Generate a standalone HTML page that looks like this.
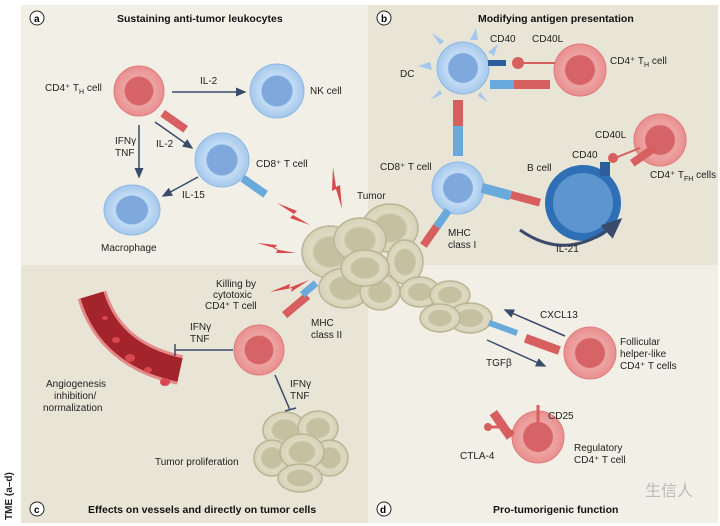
<!DOCTYPE html>
<html><head><meta charset="utf-8"><style>
body{margin:0;background:#fff;}
svg{display:block;font-family:"Liberation Sans","Noto Sans CJK SC",sans-serif;}
.t{font-size:10px;fill:#222}
.h{font-size:10.5px;font-weight:bold;fill:#111}
.ar{stroke:#3a4a6b;stroke-width:1.5;fill:none}
</style></head><body>
<svg width="720" height="526" viewBox="0 0 720 526">
<defs>
<marker id="m" markerWidth="8" markerHeight="8" refX="6" refY="4" orient="auto"><path d="M0,1 L7,4 L0,7z" fill="#3a4a6b"/></marker>
<radialGradient id="rc"><stop offset="0.55" stop-color="#d66466"/><stop offset="0.6" stop-color="#eda4a3"/><stop offset="1" stop-color="#e88f8f"/></radialGradient>
<radialGradient id="bc"><stop offset="0.55" stop-color="#7fa9dc"/><stop offset="0.6" stop-color="#c2dcf4"/><stop offset="1" stop-color="#a6c8ec"/></radialGradient>
<radialGradient id="tc"><stop offset="0.55" stop-color="#c4c0a0"/><stop offset="0.65" stop-color="#dedbc4"/><stop offset="1" stop-color="#d6d2b6"/></radialGradient>
</defs>
<rect x="21" y="5" width="347" height="260" fill="#f2f0e6"/>
<rect x="368" y="5" width="350" height="260" fill="#e8e5d6"/>
<rect x="21" y="265" width="347" height="258" fill="#e8e5d6"/>
<rect x="368" y="265" width="350" height="258" fill="#f2f0e6"/>
<text transform="translate(12,520) rotate(-90)" style="font-size:10px;font-weight:bold" fill="#222">TME (a–d)</text>
<g font-weight="bold" font-size="10">
<circle cx="37" cy="18" r="7" fill="#fff" stroke="#222"/><text x="34" y="22">a</text>
<circle cx="384" cy="18" r="7" fill="#fff" stroke="#222"/><text x="381" y="22">b</text>
<circle cx="37" cy="509" r="7" fill="#fff" stroke="#222"/><text x="34" y="513">c</text>
<circle cx="384" cy="509" r="7" fill="#fff" stroke="#222"/><text x="380" y="513">d</text>
</g>
<text x="117" y="22" class="h">Sustaining anti-tumor leukocytes</text>
<text x="478" y="22" class="h">Modifying antigen presentation</text>
<text x="88" y="513" class="h">Effects on vessels and directly on tumor cells</text>
<text x="493" y="513" class="h">Pro-tumorigenic function</text>

<!-- panel a -->
<circle cx="139" cy="91" r="25" fill="url(#rc)" stroke="#e2797b"/>
<rect x="165" y="110" width="28" height="8" fill="#d85f5f" transform="rotate(35 165 110)"/>
<circle cx="277" cy="91" r="27" fill="url(#bc)" stroke="#8db8e4"/>
<circle cx="222" cy="160" r="27" fill="url(#bc)" stroke="#8db8e4"/>
<rect x="245" y="175" width="28" height="8" fill="#6aa9dc" transform="rotate(35 245 175)"/>
<ellipse cx="132" cy="210" rx="28" ry="25" fill="url(#bc)" stroke="#8db8e4"/>
<line x1="172" y1="92" x2="245" y2="92" class="ar" marker-end="url(#m)"/>
<line x1="155" y1="122" x2="192" y2="148" class="ar" marker-end="url(#m)"/>
<line x1="139" y1="125" x2="139" y2="177" class="ar" marker-end="url(#m)"/>
<line x1="198" y1="177" x2="163" y2="196" class="ar" marker-end="url(#m)"/>
<text x="45" y="91" class="t">CD4⁺ T<tspan font-size="7" dy="3">H</tspan><tspan dy="-3"> cell</tspan></text>
<text x="200" y="84" class="t">IL-2</text>
<text x="310" y="94" class="t">NK cell</text>
<text x="115" y="144" class="t">IFNγ</text><text x="115" y="156" class="t">TNF</text>
<text x="156" y="147" class="t">IL-2</text>
<text x="256" y="167" class="t">CD8⁺ T cell</text>
<text x="182" y="198" class="t">IL-15</text>
<text x="101" y="251" class="t">Macrophage</text>
<g fill="#d9484a">
<path d="M277,203 l20,8 -4,4 17,10 -20,-7 4,-4z"/>
<path d="M257,243 l20,2 -3,4 22,4 -20,0 2,-4z"/>
<path d="M333,167 l3,20 4,-2 2,24 -6,-20 -4,2z"/>
<path d="M270,292 l20,-8 -1,4 20,-8 -18,12 1,-4z"/>
</g>
<!-- tumor -->
<g fill="url(#tc)" stroke="#b9b595" stroke-width="1.5">
<ellipse cx="330" cy="252" rx="28" ry="26"/>
<ellipse cx="390" cy="228" rx="28" ry="24"/>
<ellipse cx="360" cy="240" rx="26" ry="22"/>
<ellipse cx="405" cy="262" rx="18" ry="22"/>
<ellipse cx="345" cy="288" rx="26" ry="20"/>
<ellipse cx="380" cy="292" rx="20" ry="18"/>
<ellipse cx="365" cy="268" rx="24" ry="18"/>
<ellipse cx="420" cy="292" rx="20" ry="15"/>
<ellipse cx="450" cy="295" rx="20" ry="14"/>
<ellipse cx="470" cy="318" rx="22" ry="15"/>
<ellipse cx="440" cy="318" rx="20" ry="14"/>
<ellipse cx="285" cy="430" rx="22" ry="18"/>
<ellipse cx="318" cy="428" rx="20" ry="17"/>
<ellipse cx="330" cy="458" rx="18" ry="18"/>
<ellipse cx="272" cy="458" rx="18" ry="18"/>
<ellipse cx="302" cy="452" rx="22" ry="18"/>
<ellipse cx="300" cy="478" rx="22" ry="14"/>
</g>
<text x="357" y="199" class="t">Tumor</text>
<!-- panel b -->
<g fill="#a6c8ec">
<path d="M440,45 l-8,-12 12,8z M470,40 l6,-12 2,12z M488,52 l10,-8 -4,12z M432,70 l-14,-4 12,-4z M440,90 l-10,10 12,-6z M480,92 l8,10 -10,-6z"/>
</g>
<circle cx="463" cy="68" r="26" fill="url(#bc)" stroke="#8db8e4"/>
<circle cx="580" cy="70" r="26" fill="url(#rc)" stroke="#e2797b"/>
<rect x="488" y="60" width="18" height="6" fill="#2d5e9c"/>
<line x1="518" y1="63" x2="555" y2="63" stroke="#d85f5f" stroke-width="2"/><circle cx="518" cy="63" r="6" fill="#d85f5f"/>
<rect x="490" y="80" width="60" height="9" fill="#d85f5f"/><rect x="490" y="80" width="24" height="9" fill="#6aa9dc"/>
<circle cx="458" cy="188" r="26" fill="url(#bc)" stroke="#8db8e4"/>
<rect x="453" y="100" width="10" height="26" fill="#d85f5f"/><rect x="453" y="126" width="10" height="30" fill="#6aa9dc"/>
<rect x="483" y="183" width="30" height="10" fill="#6aa9dc" transform="rotate(15 483 183)"/>
<rect x="512" y="191" width="30" height="8" fill="#d85f5f" transform="rotate(15 512 191)"/>
<circle cx="583" cy="203" r="38" fill="#2f6fb5"/><circle cx="583" cy="203" r="30" fill="#5d95cf"/>
<circle cx="660" cy="140" r="26" fill="url(#rc)" stroke="#e2797b"/>
<line x1="615" y1="158" x2="640" y2="148" stroke="#d85f5f" stroke-width="2"/><circle cx="613" cy="158" r="5" fill="#d85f5f"/>
<rect x="600" y="162" width="10" height="14" fill="#2d5e9c"/>
<rect x="630" y="160" width="28" height="8" fill="#d85f5f" transform="rotate(-35 630 160)"/>
<path d="M520,230 Q570,265 620,220" fill="none" stroke="#3a4a6b" stroke-width="3" marker-end="url(#m)"/>
<rect x="435" y="222" width="8" height="26" fill="#d85f5f" transform="rotate(35 435 222)"/>
<rect x="445" y="208" width="8" height="20" fill="#6aa9dc" transform="rotate(35 445 208)"/>
<text x="400" y="77" class="t">DC</text>
<text x="490" y="42" class="t">CD40</text><text x="532" y="42" class="t">CD40L</text>
<text x="610" y="64" class="t">CD4⁺ T<tspan font-size="7" dy="3">H</tspan><tspan dy="-3"> cell</tspan></text>
<text x="380" y="170" class="t">CD8⁺ T cell</text>
<text x="595" y="138" class="t">CD40L</text><text x="572" y="158" class="t">CD40</text>
<text x="527" y="171" class="t">B cell</text>
<text x="650" y="178" class="t">CD4⁺ T<tspan font-size="7" dy="3">FH</tspan><tspan dy="-3"> cells</tspan></text>
<text x="448" y="236" class="t">MHC</text><text x="448" y="248" class="t">class I</text>
<text x="556" y="252" class="t">IL-21</text>
<!-- panel c -->
<path d="M92,295 Q110,355 180,370" fill="none" stroke="#e58a8a" stroke-width="30"/>
<path d="M92,295 Q110,355 180,370" fill="none" stroke="#a3252b" stroke-width="24"/>
<g fill="#d8474d"><ellipse cx="116" cy="340" rx="4" ry="3"/><ellipse cx="130" cy="358" rx="5" ry="4"/><ellipse cx="148" cy="370" rx="4" ry="3"/><ellipse cx="165" cy="382" rx="5" ry="4"/><ellipse cx="105" cy="318" rx="3" ry="2"/></g>
<circle cx="259" cy="350" r="25" fill="url(#rc)" stroke="#e2797b"/>
<rect x="282" y="312" width="30" height="8" fill="#d85f5f" transform="rotate(-40 282 312)"/>
<rect x="300" y="292" width="18" height="7" fill="#6aa9dc" transform="rotate(-40 300 292)"/>
<line x1="233" y1="350" x2="175" y2="350" class="ar"/><line x1="175" y1="344" x2="175" y2="356" class="ar"/>
<line x1="275" y1="375" x2="290" y2="410" class="ar"/><line x1="285" y1="411" x2="296" y2="408" class="ar"/>
<text x="216" y="287" class="t">Killing by</text><text x="213" y="298" class="t">cytotoxic</text><text x="205" y="309" class="t">CD4⁺ T cell</text>
<text x="311" y="326" class="t">MHC</text><text x="311" y="338" class="t">class II</text>
<text x="190" y="330" class="t">IFNγ</text><text x="190" y="342" class="t">TNF</text>
<text x="290" y="387" class="t">IFNγ</text><text x="290" y="399" class="t">TNF</text>
<text x="46" y="387" class="t">Angiogenesis</text><text x="54" y="399" class="t">inhibition/</text><text x="43" y="411" class="t">normalization</text>
<text x="155" y="465" class="t">Tumor proliferation</text>
<!-- panel d -->
<circle cx="590" cy="353" r="26" fill="url(#rc)" stroke="#e2797b"/>
<rect x="527" y="334" width="36" height="9" fill="#d85f5f" transform="rotate(20 527 334)"/>
<rect x="490" y="320" width="30" height="6" fill="#6aa9dc" transform="rotate(20 490 320)"/>
<line x1="565" y1="336" x2="505" y2="310" class="ar" marker-end="url(#m)"/>
<line x1="487" y1="340" x2="545" y2="366" class="ar" marker-end="url(#m)"/>
<circle cx="538" cy="437" r="26" fill="url(#rc)" stroke="#e2797b"/>
<rect x="497" y="410" width="30" height="9" fill="#d85f5f" transform="rotate(55 497 410)"/>
<line x1="538" y1="405" x2="538" y2="425" stroke="#d85f5f" stroke-width="3"/>
<path d="M514,433 l-10,-6 -15,0" stroke="#d85f5f" stroke-width="3" fill="none"/><circle cx="488" cy="427" r="4" fill="#d85f5f"/>
<text x="540" y="318" class="t">CXCL13</text><text x="486" y="366" class="t">TGFβ</text>
<text x="620" y="345" class="t">Follicular</text><text x="620" y="357" class="t">helper-like</text><text x="620" y="369" class="t">CD4⁺ T cells</text>
<text x="548" y="419" class="t">CD25</text><text x="460" y="459" class="t">CTLA-4</text>
<text x="574" y="451" class="t">Regulatory</text><text x="574" y="463" class="t">CD4⁺ T cell</text>
<text x="645" y="496" style="font-size:16px" fill="#bbb">生信人</text>
</svg>
</body></html>
